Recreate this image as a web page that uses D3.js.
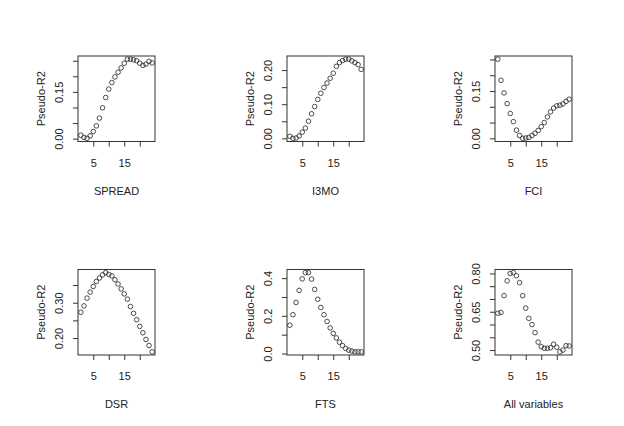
<!DOCTYPE html>
<html><head><meta charset="utf-8">
<script src="https://cdn.jsdelivr.net/npm/d3@7"></script>
<style>html,body{margin:0;padding:0;background:#fff;} svg{display:block}</style>
</head><body><svg id="chart" width="624" height="426"></svg>
<script>
// ---- data ----
const lags = [1,2,3,4,5,6,7,8,9,10,11,12,13,14,15,16,17,18,19,20,21,22,23,24];
const titles = ["SPREAD","I3MO","FCI","DSR","FTS","All variables"];
const yTitle = "Pseudo-R2";

const spread = [0.011,0.004,0.001,0.009,0.023,0.041,0.066,0.099,0.132,0.159,0.180,0.198,0.213,0.227,0.242,0.255,0.255,0.253,0.250,0.242,0.235,0.239,0.248,0.243];
const i3mo   = [0.006,0.000,0.001,0.007,0.018,0.030,0.050,0.072,0.093,0.114,0.132,0.149,0.162,0.176,0.191,0.211,0.222,0.228,0.232,0.232,0.227,0.222,0.216,0.202];
const fci    = [0.251,0.184,0.144,0.110,0.079,0.053,0.026,0.009,0.000,0.001,0.003,0.009,0.016,0.025,0.037,0.050,0.068,0.084,0.096,0.103,0.105,0.109,0.117,0.124];
const dsr    = [0.273,0.291,0.313,0.330,0.346,0.360,0.370,0.379,0.385,0.380,0.376,0.365,0.353,0.339,0.325,0.310,0.289,0.270,0.252,0.233,0.215,0.196,0.179,0.161];
const fts    = [0.150,0.206,0.271,0.335,0.396,0.429,0.429,0.395,0.340,0.288,0.244,0.206,0.170,0.136,0.107,0.083,0.060,0.042,0.027,0.018,0.013,0.009,0.009,0.009];
const allVars= [0.644,0.647,0.713,0.771,0.800,0.803,0.791,0.764,0.713,0.664,0.624,0.600,0.568,0.531,0.513,0.507,0.507,0.509,0.523,0.511,0.493,0.500,0.517,0.516];

const xTicks  = [5,10,15,20];
const xLabels = [5,15];

const spreadTicks = [0,0.05,0.10,0.15,0.20,0.25], spreadLabels = ["0.00","0.15"];
const i3moTicks   = [0,0.05,0.10,0.15,0.20],      i3moLabels   = ["0.00","0.10","0.20"];
const fciTicks    = [0,0.05,0.10,0.15,0.20,0.25], fciLabels    = ["0.00","0.15"];
const dsrTicks    = [0.20,0.25,0.30,0.35],        dsrLabels    = ["0.20","0.30"];
const ftsTicks    = [0,0.1,0.2,0.3,0.4],          ftsLabels    = ["0.0","0.2","0.4"];
const allTicks    = [0.50,0.55,0.60,0.65,0.70,0.75,0.80], allLabels = ["0.50","0.65","0.80"];

const seriesList = [spread, i3mo, fci, dsr, fts, allVars];
const tickList   = [spreadTicks, i3moTicks, fciTicks, dsrTicks, ftsTicks, allTicks];
const labelList  = [spreadLabels, i3moLabels, fciLabels, dsrLabels, ftsLabels, allLabels];

// ---- layout ----
const colLeft = [78, 287, 495], rowTop = [56, 269.5], W = 77, H = 85.5;
const font = "'Liberation Sans', Arial, sans-serif";
const ink = "#222";

const svg = d3.select("#chart");
svg.append("rect").attr("width",624).attr("height",426).attr("fill","#fff");

seriesList.forEach((vals, i) => {
  const col = i % 3, row = Math.floor(i / 3);
  const g = svg.append("g").attr("transform", `translate(${colLeft[col]},${rowTop[row]})`);

  const xr = d3.extent(lags), xp = (xr[1]-xr[0])*0.04;
  const x = d3.scaleLinear().domain([xr[0]-xp, xr[1]+xp]).range([0, W]);
  const yr = d3.extent(vals), yp = (yr[1]-yr[0])*0.04;
  const y = d3.scaleLinear().domain([yr[0]-yp, yr[1]+yp]).range([H, 0]);

  // x axis
  const gx = g.append("g").attr("transform", `translate(0,${H})`)
    .call(d3.axisBottom(x).tickValues(xTicks).tickSize(5).tickSizeOuter(0)
      .tickFormat(d => xLabels.includes(d) ? String(d) : ""));
  gx.select(".domain").remove();
  gx.selectAll(".tick line").attr("stroke", "#333");
  gx.selectAll("text").attr("y", 25).attr("dy", 0)
    .attr("font-family", font).attr("font-size", 11).attr("fill", ink);

  // y axis
  const labels = labelList[i];
  const gy = g.append("g")
    .call(d3.axisLeft(y).tickValues(tickList[i]).tickSize(5).tickSizeOuter(0)
      .tickFormat(d => labels.find(s => Math.abs(+s - d) < 1e-9) || ""));
  gy.select(".domain").remove();
  gy.selectAll(".tick line").attr("stroke", "#333");
  gy.selectAll("text").attr("x", 0).attr("dy", 0)
    .attr("transform", "translate(-15.5,0) rotate(-90)")
    .attr("text-anchor", "middle")
    .attr("font-family", font).attr("font-size", 11).attr("fill", ink);

  // box
  g.append("rect").attr("width", W).attr("height", H)
    .attr("fill", "none").attr("stroke", "#333").attr("stroke-width", 1);

  // points
  g.selectAll("circle.pt").data(vals).join("circle").attr("class", "pt")
    .attr("cx", (d, j) => x(lags[j])).attr("cy", d => y(d)).attr("r", 2.3)
    .attr("fill", "none").attr("stroke", ink).attr("stroke-width", 0.8);

  // titles
  g.append("text").attr("x", W/2).attr("y", H + 53).attr("text-anchor", "middle")
    .attr("font-family", font).attr("font-size", 11).attr("fill", ink).text(titles[i]);
  g.append("text").attr("transform", `translate(-33,${H/2}) rotate(-90)`)
    .attr("text-anchor", "middle")
    .attr("font-family", font).attr("font-size", 11).attr("fill", ink).text(yTitle);
});
</script>
</body></html>
